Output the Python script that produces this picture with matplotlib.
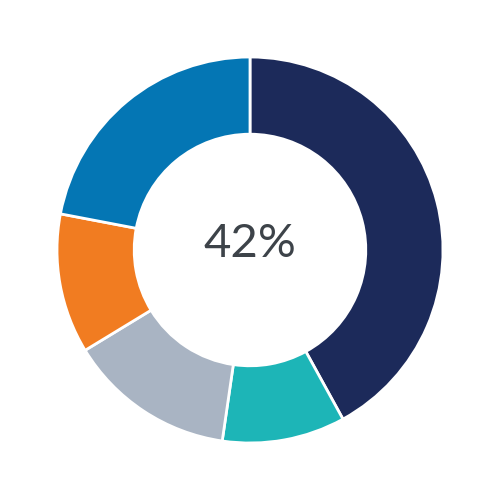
import matplotlib
matplotlib.use("Agg")
import matplotlib.pyplot as plt

labels = ["Navy", "Teal", "Gray", "Orange", "Blue"]
values = [42, 10.3, 14, 11.7, 22]
colors = ["#1c2a5a", "#1db5b7", "#a9b4c3", "#f17c21", "#0476b4"]
center_text = "42%"

fig = plt.figure(figsize=(5, 5), dpi=100)
ax = fig.add_axes([0, 0, 1, 1])
ax.pie(values, colors=colors, startangle=90, counterclock=False, radius=1.0,
       wedgeprops=dict(width=0.40, edgecolor="white", linewidth=2))
ax.text(0, 0.03, center_text, ha="center", va="center", fontsize=34,
        color="#3d4349", family="Lato", fontweight="normal")
lim = 250 / 193
ax.set_xlim(-lim, lim)
ax.set_ylim(-lim, lim)
ax.set_aspect("equal")
ax.axis("off")
fig.savefig("out.png", dpi=100, facecolor="white")
